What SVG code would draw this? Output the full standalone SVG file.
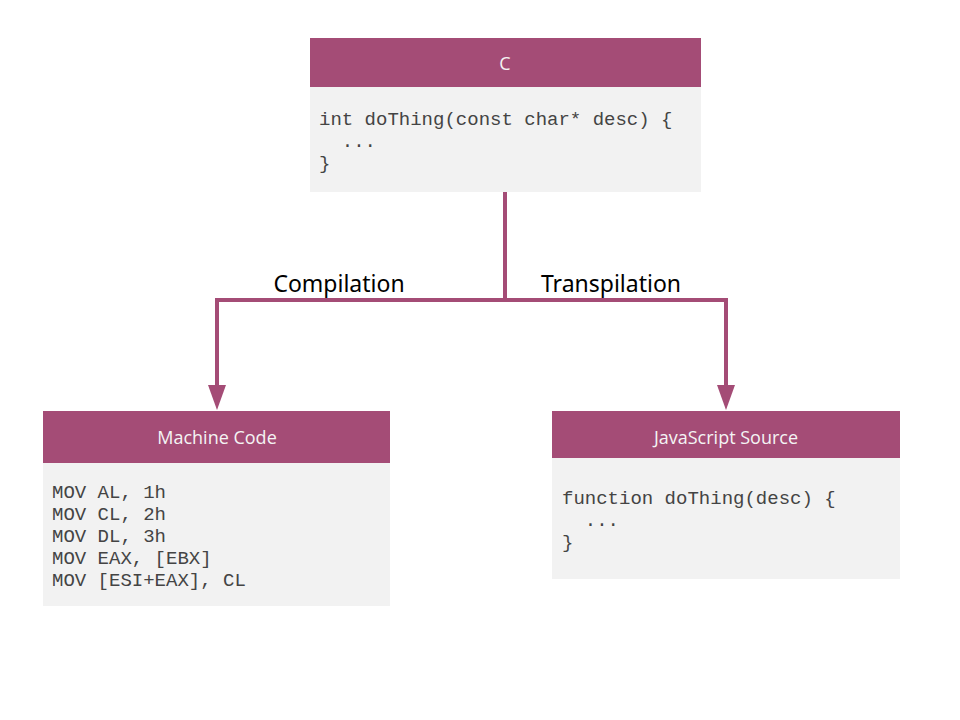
<svg xmlns="http://www.w3.org/2000/svg" width="960" height="720" viewBox="0 0 960 720">
<style>
.hdr{fill:#a44c76}
.body{fill:#f2f2f2}
.ht{font-family:"Open Sans","Noto Sans",sans-serif;font-size:18px;fill:#f4f4f4;text-anchor:middle}
.code{font-family:"Liberation Mono","Courier New",monospace;font-size:19px;fill:#444}
.lbl{font-family:"Noto Sans","Open Sans",sans-serif;font-size:23px;fill:#000;text-anchor:middle}
.conn{stroke:#a44c76;stroke-width:4;fill:none}
</style>
<rect width="960" height="720" fill="#fff"/>
<g id="connectors">
<path class="conn" d="M505 192 V300"/>
<path class="conn" d="M505 300 H217 V385"/>
<path class="conn" d="M505 300 H726 V385"/>
<path d="M208 385 L226 385 L217 410 Z" fill="#a44c76"/>
<path d="M717 385 L735 385 L726 410 Z" fill="#a44c76"/>
<text class="lbl" x="339" y="292">Compilation</text>
<text class="lbl" x="611" y="292">Transpilation</text>
</g>
<g id="node-c">
<rect class="hdr" x="310" y="38" width="391" height="49"/>
<rect class="body" x="310" y="87" width="391" height="105"/>
<text class="ht" x="505" y="70">C</text>
<text class="code" x="319" y="125" xml:space="preserve">int doThing(const char* desc) {</text>
<text class="code" x="319" y="147" xml:space="preserve">  ...</text>
<text class="code" x="319" y="169" xml:space="preserve">}</text>
</g>
<g id="node-machine">
<rect class="hdr" x="43" y="411" width="347" height="52"/>
<rect class="body" x="43" y="463" width="347" height="143"/>
<text class="ht" x="217" y="444">Machine Code</text>
<text class="code" x="52" y="498">MOV AL, 1h</text>
<text class="code" x="52" y="520">MOV CL, 2h</text>
<text class="code" x="52" y="542">MOV DL, 3h</text>
<text class="code" x="52" y="564">MOV EAX, [EBX]</text>
<text class="code" x="52" y="586">MOV [ESI+EAX], CL</text>
</g>
<g id="node-js">
<rect class="hdr" x="552" y="411" width="348" height="47"/>
<rect class="body" x="552" y="458" width="348" height="121"/>
<text class="ht" x="726" y="444">JavaScript Source</text>
<text class="code" x="562" y="504" xml:space="preserve">function doThing(desc) {</text>
<text class="code" x="562" y="526" xml:space="preserve">  ...</text>
<text class="code" x="562" y="548" xml:space="preserve">}</text>
</g>
</svg>
